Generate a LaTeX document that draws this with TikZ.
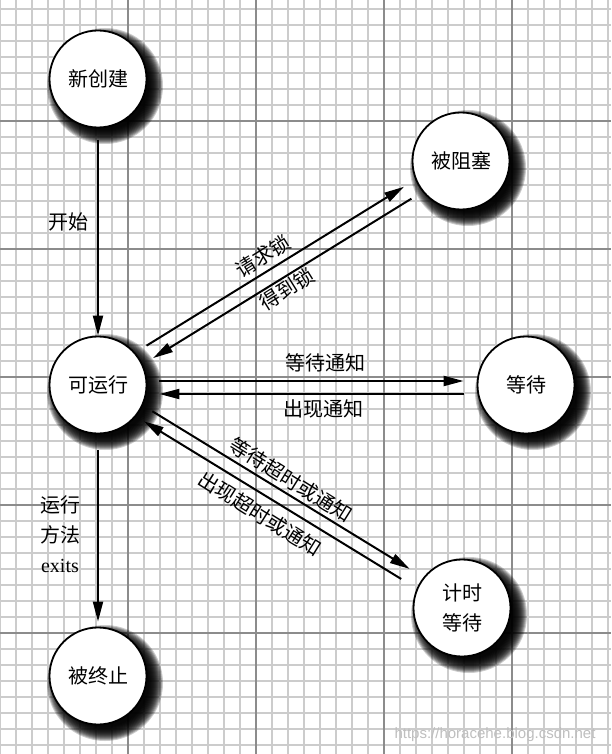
\documentclass[tikz,border=0pt]{standalone}
\usepackage{fontspec}
\setmainfont{Liberation Serif}
\newfontfamily\cjk{Noto Sans CJK SC}
\newfontfamily\wmfont{Liberation Sans}
\usetikzlibrary{arrows.meta,calc,backgrounds}
\begin{document}
\begin{tikzpicture}[x=1pt,y=-1pt,
  state/.style={circle,draw=black,line width=1.8pt,fill=white,minimum size=97pt,inner sep=0pt,
    font=\cjk\fontsize{20}{30}\selectfont,align=center},
  edge/.style={line width=2pt,-{Triangle[length=20pt,width=10pt]}},
  lbl/.style={font=\cjk\fontsize{20}{30}\selectfont,inner sep=0pt},
  minor/.style={draw=black!20,line width=1.2pt},
  major/.style={draw=black!45,line width=1.5pt},
  shadowlayer/.style={fill=black,opacity=0.2}]
\useasboundingbox (0,0) rectangle (611,754);
% states
\node[state] (new) at (98,79) {新创建};
\node[state] (blk) at (461,161) {被阻塞};
\node[state] (run) at (98,385) {可运行};
\node[state] (wait) at (526,385) {等待};
\node[state] (twait) at (462,608) {计时\\等待};
\node[state] (term) at (98,676) {被终止};
% background: grid and shadows
\begin{scope}[on background layer]
\fill[white] (0,0) rectangle (611,754);
\foreach \x in {0,16,...,608} \draw[minor] (\x,0) -- (\x,754);
\foreach \y in {9,25,...,750} \draw[minor] (0,\y) -- (611,\y);
\foreach \x in {128,256,384,512} \draw[major] (\x,0) -- (\x,754);
\foreach \y in {121,249,377,505,633} \draw[major] (0,\y) -- (611,\y);
\foreach \n in {new,blk,run,wait,twait,term} {
  \foreach \r in {44,45,...,58} \fill[shadowlayer] ([shift={(7,7)}]\n.center) circle[radius=\r pt];
}
\end{scope}
% connectors
\draw[edge, shorten <=12pt] (new) -- (run);
\draw[edge, shorten <=16pt, shorten >=5pt] (run) -- (term);
\draw[edge, shorten <=12pt, shorten >=13pt] ([yshift=4pt]run.east) -- ([yshift=4pt]wait.west);
\draw[edge, shorten <=13pt, shorten >=12pt] ([yshift=-9pt]wait.west) -- ([yshift=-9pt]run.east);
\draw[edge, shorten <=62pt, shorten >=62pt] ($(run)!8pt!90:(blk)$) -- ($(blk)!8pt!-90:(run)$);
\draw[edge, shorten <=62pt, shorten >=61pt] ($(blk)!6pt!90:(run)$) -- ($(run)!6pt!-90:(blk)$);
\draw[edge, shorten <=60pt, shorten >=65pt] ($(run)!6pt!90:(twait)$) -- ($(twait)!6pt!-90:(run)$);
\draw[edge, shorten <=67pt, shorten >=58pt] ($(twait)!7pt!90:(run)$) -- ($(run)!7pt!-90:(twait)$);
% labels
\node[lbl, rotate=32] (l1) at (263,256) {请求锁};
\node[lbl, rotate=32] (l2) at (287,289) {得到锁};
\node[lbl] (l3) at (325,363) {等待通知};
\node[lbl] (l4) at (323,409) {出现通知};
\node[lbl, rotate=-32] (l5) at (291,480) {等待超时或通知};
\node[lbl, rotate=-32] (l6) at (260,514) {出现超时或通知};
\node[lbl] (l7) at (68,222) {开始};
\node[lbl, align=center] (l8) at (60,534) {运行\\方法\\{\rmfamily exits}};
\node[font=\wmfont\fontsize{15}{15}\selectfont, text=black!25, inner sep=0pt] (wm) at (495,735) {https://horacehe.blog.csdn.net};
\end{tikzpicture}
\end{document}
